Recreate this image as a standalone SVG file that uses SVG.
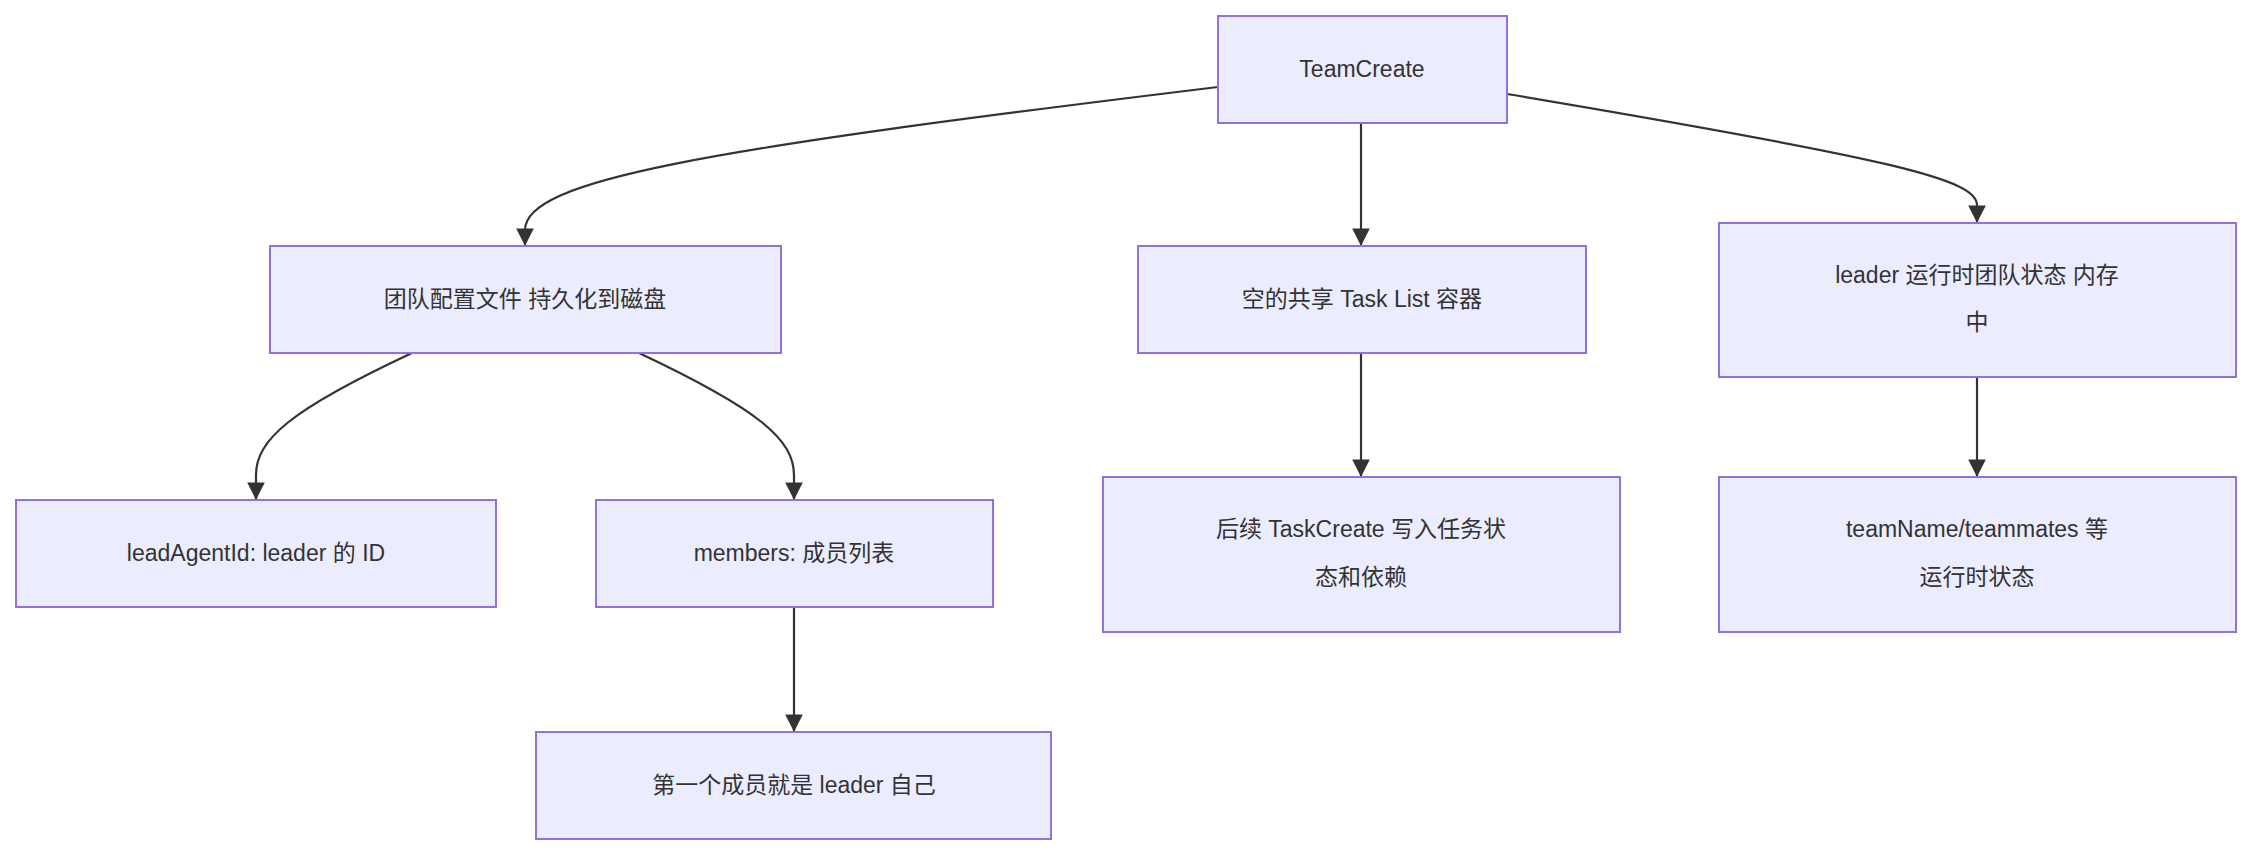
<svg xmlns="http://www.w3.org/2000/svg" width="2268" height="860" viewBox="0 0 2268 860">
<style>
.n rect{fill:#ECECFF;stroke:#9370DB;stroke-width:2}
.n text{font-family:"Liberation Sans","Noto Sans CJK SC",sans-serif;font-size:23px;fill:#333;text-anchor:middle;dominant-baseline:central}
.e path{fill:none;stroke:#333;stroke-width:2.2;marker-end:url(#a)}
</style>
<defs><marker id="a" viewBox="0 0 10 10" refX="10" refY="5" markerWidth="8" markerHeight="8" markerUnits="strokeWidth" orient="auto"><path d="M0,0L10,5L0,10z" fill="#333"/></marker></defs>
<rect width="2268" height="860" fill="#fff"/>
<g class="e">
<path d="M1218,87 C700,150 525,180 525,230 L525,246"/>
<path d="M1361,123 L1361,246"/>
<path d="M1507,94 C1900,160 1977,180 1977,205 L1977,223"/>
<path d="M412,353 C290,410 256,440 256,475 L256,500"/>
<path d="M639,353 C760,410 794,440 794,475 L794,500"/>
<path d="M794,607 L794,732"/>
<path d="M1361,353 L1361,477"/>
<path d="M1977,377 L1977,477"/>
</g>
<g class="n" id="teamcreate"><rect x="1218" y="16" width="289" height="107"/><text x="1362" y="69">TeamCreate</text></g>
<g class="n" id="config"><rect x="270" y="246" width="511" height="107"/><text x="525" y="299">团队配置文件 持久化到磁盘</text></g>
<g class="n" id="tasklist"><rect x="1138" y="246" width="448" height="107"/><text x="1362" y="299">空的共享 Task List 容器</text></g>
<g class="n" id="leaderstate"><rect x="1719" y="223" width="517" height="154"/><text x="1977" y="275">leader 运行时团队状态 内存</text><text x="1977" y="322">中</text></g>
<g class="n" id="leadagent"><rect x="16" y="500" width="480" height="107"/><text x="256" y="553">leadAgentId: leader 的 ID</text></g>
<g class="n" id="members"><rect x="596" y="500" width="397" height="107"/><text x="794" y="553">members: 成员列表</text></g>
<g class="n" id="taskcreate"><rect x="1103" y="477" width="517" height="155"/><text x="1361" y="529">后续 TaskCreate 写入任务状</text><text x="1361" y="577">态和依赖</text></g>
<g class="n" id="teamname"><rect x="1719" y="477" width="517" height="155"/><text x="1977" y="529">teamName/teammates 等</text><text x="1977" y="577">运行时状态</text></g>
<g class="n" id="first"><rect x="536" y="732" width="515" height="107"/><text x="794" y="785">第一个成员就是 leader 自己</text></g>
</svg>
